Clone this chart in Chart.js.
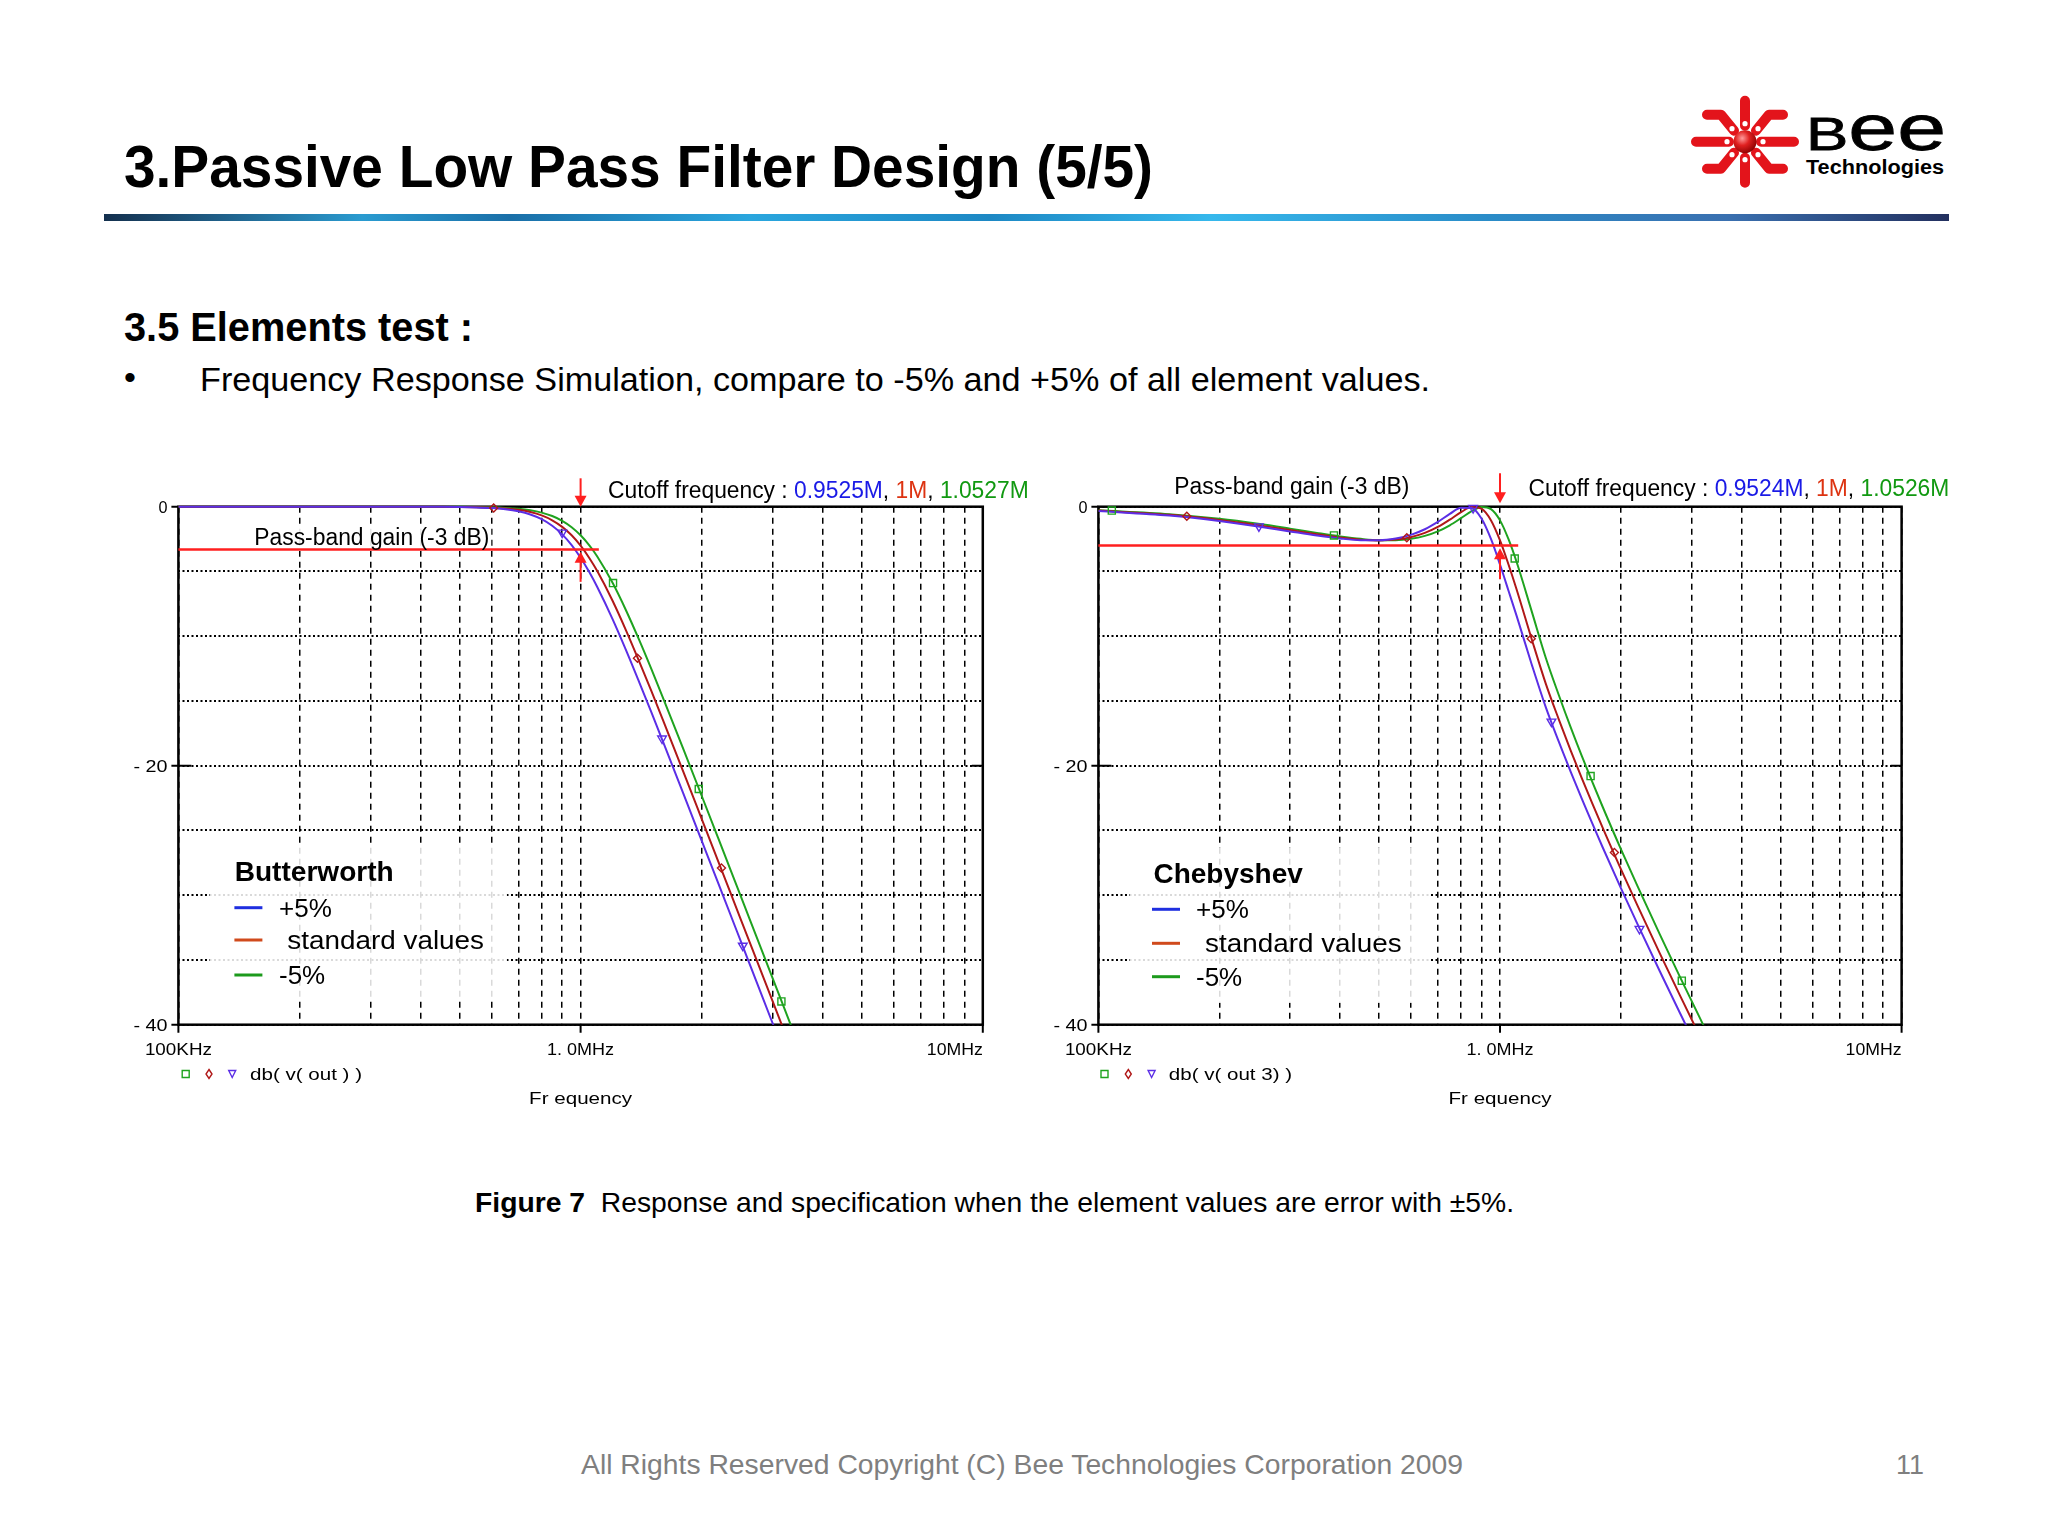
<!DOCTYPE html>
<html>
<head>
<meta charset="utf-8">
<script src="https://cdn.jsdelivr.net/npm/chart.js@4.4.1/dist/chart.umd.min.js"></script>
<style>
  html, body { margin: 0; padding: 0; background: #fff; }
  body { width: 2048px; height: 1536px; position: relative; overflow: hidden; font-family: "Liberation Sans", Arial, sans-serif; }
  #slide { position: absolute; left: 0; top: 0; }
  .bar {
    position: absolute; left: 104px; top: 214px; width: 1845px; height: 7px;
    background: linear-gradient(90deg, #14304e 0%, #1f5d86 6%, #2a9bd0 14%, #1a6fa8 22%, #2aa6de 35%,
      #1d88c4 48%, #36b8ec 60%, #2a8cc8 75%, #3a70b0 88%, #23305f 100%);
  }
  .plot { position: absolute; }
</style>
</head>
<body>
<svg id="slide" width="2048" height="1536" font-family="Liberation Sans, Arial, sans-serif">
  <text x="124" y="187" font-size="59" font-weight="bold" textLength="1029" lengthAdjust="spacingAndGlyphs">3.Passive Low Pass Filter Design (5/5)</text>
  <text x="124" y="341" font-size="40" font-weight="bold" textLength="349" lengthAdjust="spacingAndGlyphs">3.5 Elements test :</text>
  <text x="124" y="389" font-size="34">•</text>
  <text x="200" y="391" font-size="34" textLength="1230" lengthAdjust="spacingAndGlyphs">Frequency Response Simulation, compare to -5% and +5% of all element values.</text>
  <text x="475" y="1212" font-size="28" style="white-space:pre" textLength="1039" lengthAdjust="spacingAndGlyphs"><tspan font-weight="bold">Figure 7</tspan>  Response and specification when the element values are error with ±5%.</text>
  <text x="581" y="1474" font-size="28" fill="#7f7f7f" textLength="882" lengthAdjust="spacingAndGlyphs">All Rights Reserved Copyright (C) Bee Technologies Corporation 2009</text>
  <text x="1896" y="1474" font-size="28" fill="#7f7f7f" textLength="28" lengthAdjust="spacingAndGlyphs">11</text>

  <defs>
    <radialGradient id="ball" cx="0.38" cy="0.35" r="0.7">
      <stop offset="0" stop-color="#ff9a9a"/>
      <stop offset="0.45" stop-color="#e02020"/>
      <stop offset="1" stop-color="#8a0000"/>
    </radialGradient>
  </defs>
  <g transform="translate(1745,141.7)" stroke="#e3141b" stroke-width="10" stroke-linecap="round" stroke-linejoin="round" fill="none">
    <path d="M -16 0 L -49 0 M 16 0 L 49 0 M 0 -16 L 0 -41 M 0 16 L 0 41"/>
    <path d="M -11 -11 L -24 -27 L -38 -27 M 11 -11 L 24 -27 L 38 -27 M -11 11 L -24 27 L -38 27 M 11 11 L 24 27 L 38 27"/>
    <g fill="#fff" stroke="none">
      <circle cx="-18" cy="0" r="2.6"/><circle cx="18" cy="0" r="2.6"/>
      <circle cx="0" cy="-18" r="2.6"/><circle cx="0" cy="18" r="2.6"/>
      <circle cx="-13" cy="-13" r="2.6"/><circle cx="13" cy="-13" r="2.6"/>
      <circle cx="-13" cy="13" r="2.6"/><circle cx="13" cy="13" r="2.6"/>
    </g>
    <circle cx="0" cy="0" r="11.5" fill="url(#ball)" stroke="none"/>
  </g>
  <text x="1806" y="150" textLength="140" lengthAdjust="spacingAndGlyphs" stroke="#000" stroke-width="0.8"><tspan font-size="47">B</tspan><tspan font-size="65">ee</tspan></text>
  <text x="1806" y="174" font-size="20" font-weight="bold" textLength="138" lengthAdjust="spacingAndGlyphs">Technologies</text>
</svg>
<div class="bar"></div>
<div class="plot" style="left:100px;top:460px"><canvas id="bwChart" width="940" height="660"></canvas></div>
<div class="plot" style="left:1040px;top:460px"><canvas id="chChart" width="950" height="660"></canvas></div>

<script>
// frequency points (kHz) shared by all traces
const freqKHz = [100, 150, 200, 250, 300, 350, 400, 450, 500, 550, 600, 650, 700, 750, 800, 850, 900, 950,
  1000, 1050, 1100, 1200, 1300, 1400, 1500, 1600, 1800, 2000, 2200, 2500, 2800, 3200, 3600, 4000];

// Butterworth, db(v(out))
const bwPlus5 = [0, 0, 0, 0, 0, 0, -0.004, -0.011, -0.025, -0.053, -0.106, -0.200, -0.354, -0.597, -0.961, -1.469, -2.137, -2.965,
  -3.94, -5.03, -6.20, -8.66, -11.15, -13.58, -15.89, -18.09, -22.14, -25.79, -29.09, -33.53, -37.47, -42.10, -46.20, -49.85];
const bwStd = [0, 0, 0, 0, 0, 0, -0.003, -0.007, -0.017, -0.036, -0.072, -0.136, -0.243, -0.414, -0.674, -1.047, -1.555, -2.21,
  -3.01, -3.94, -4.97, -7.24, -9.62, -11.98, -14.25, -16.43, -20.46, -24.10, -27.40, -31.84, -35.77, -40.41, -44.50, -48.16];
const bwMinus5 = [0, 0, 0, 0, 0, 0, -0.002, -0.005, -0.011, -0.024, -0.048, -0.091, -0.163, -0.279, -0.458, -0.721, -1.091, -1.583,
  -2.209, -2.966, -3.84, -5.86, -8.07, -10.33, -12.55, -14.70, -18.70, -22.32, -25.62, -30.06, -33.99, -38.63, -42.72, -46.38];

// Chebyshev, db(v(out3))
const chPlus5 = [-0.330, -0.686, -1.100, -1.521, -1.907, -2.227, -2.459, -2.583, -2.586, -2.453, -2.173, -1.742, -1.179, -0.558, -0.079, -0.097, -0.933, -2.513,
  -4.467, -6.489, -8.432, -12.2, -15.48, -18.13, -20.47, -22.59, -26.28, -29.45, -32.23, -35.87, -39.04, -42.71, -45.91, -48.74];
const chStd = [-0.301, -0.631, -1.019, -1.423, -1.802, -2.129, -2.382, -2.544, -2.601, -2.540, -2.351, -2.026, -1.567, -1.002, -0.420, -0.031, -0.163, -1.056,
  -2.601, -4.467, -6.394, -10.25, -13.66, -16.40, -18.83, -21.00, -24.77, -27.99, -30.81, -34.49, -37.68, -41.37, -44.59, -47.43];
const chMinus5 = [-0.274, -0.576, -0.939, -1.323, -1.693, -2.022, -2.291, -2.484, -2.587, -2.589, -2.481, -2.253, -1.902, -1.434, -0.882, -0.343, -0.015, -0.189,
  -1.056, -2.513, -4.275, -8.1, -11.66, -14.52, -17.04, -19.28, -23.15, -26.44, -29.30, -33.03, -36.25, -39.96, -43.19, -46.05];

// trace markers (kHz, dB)
const bwBlueMarkF = [900, 1594, 2531];          const bwBlueMarkDb = [-2.0, -17.9, -33.9];
const bwRedMarkF = [608, 1385, 2240];           const bwRedMarkDb = [-0.1, -11.7, -27.9];
const bwGreenMarkF = [1204, 1967, 3157];        const bwGreenMarkDb = [-5.9, -21.8, -38.2];
const chBlueMarkF = [251, 857, 1343, 2225];     const chBlueMarkDb = [-1.52, -0.1, -16.6, -32.6];
const chRedMarkF = [166, 586, 1196, 1927];      const chRedMarkDb = [-0.73, -2.4, -10.2, -26.7];
const chGreenMarkF = [108, 386, 1088, 1681, 2836]; const chGreenMarkDb = [-0.3, -2.22, -4.0, -20.8, -36.6];

// axes
const xGridKHz = [100, 200, 300, 400, 500, 600, 700, 800, 900, 1000, 2000, 3000, 4000, 5000, 6000, 7000, 8000, 9000, 10000];
const xTickKHz = [100, 1000, 10000];
const xTickText = ['100KHz', '1. 0MHz', '10MHz'];
const xTickWidth = [67, 67, 56];
const yTickDb = [0, -20, -40];
const yTickText = ['0', '- 20', '- 40'];
const yTickWidth = [9, 34, 34];

// annotations
const legendNames = ['+5%', 'standard values', '-5%'];
const bwCutoff = ['0.9525M', '1M', '1.0527M'];
const chCutoff = ['0.9524M', '1M', '1.0526M'];
const cutoffKHz = 1000;
const bwPassDb = -3.3;
const chPassDb = -3.0;
const passEndKHz = 1110;

const FONT = '"Liberation Sans", Arial, sans-serif';
const TRACE = ['#5b2ee6', '#b01818', '#1fa31f'];      // +5%, standard, -5%
const LEGEND = ['#1f2fe0', '#d04a1c', '#1c9a1c'];
const CUT = ['#1a1ae6', '#dd3311', '#119911'];
const RED = '#ff1f1f';

function fitText(ctx, str, x, y, w, font, color) {
  ctx.save();
  ctx.font = font;
  ctx.fillStyle = color || '#000';
  ctx.textAlign = 'left';
  ctx.textBaseline = 'alphabetic';
  const m = ctx.measureText(str).width;
  ctx.translate(x, y);
  ctx.scale(w / m, 1);
  ctx.fillText(str, 0, 0);
  ctx.restore();
}

function runs(ctx, parts, x, y, w, font) {
  ctx.save();
  ctx.font = font;
  ctx.textAlign = 'left';
  ctx.textBaseline = 'alphabetic';
  const total = parts.reduce((s, p) => s + ctx.measureText(p[0]).width, 0);
  ctx.translate(x, y);
  ctx.scale(w / total, 1);
  let cx = 0;
  parts.forEach(([t, c]) => {
    ctx.fillStyle = c;
    ctx.fillText(t, cx, 0);
    cx += ctx.measureText(t).width;
  });
  ctx.restore();
}

function arrow(ctx, x, yFrom, yTip) {
  const dir = yTip > yFrom ? 1 : -1;
  ctx.save();
  ctx.strokeStyle = RED;
  ctx.fillStyle = RED;
  ctx.lineWidth = 2;
  ctx.beginPath();
  ctx.moveTo(x, yFrom);
  ctx.lineTo(x, yTip - dir * 8);
  ctx.stroke();
  ctx.beginPath();
  ctx.moveTo(x, yTip);
  ctx.lineTo(x - 6, yTip - dir * 11);
  ctx.lineTo(x + 6, yTip - dir * 11);
  ctx.closePath();
  ctx.fill();
  ctx.restore();
}

function symbol(ctx, kind, x, y, color) {
  ctx.save();
  ctx.strokeStyle = color;
  ctx.lineWidth = 1.4;
  ctx.beginPath();
  if (kind === 'square') ctx.rect(x - 3.5, y - 3.5, 7, 7);
  if (kind === 'diamond') { ctx.moveTo(x, y - 4.5); ctx.lineTo(x + 3, y); ctx.lineTo(x, y + 4.5); ctx.lineTo(x - 3, y); ctx.closePath(); }
  if (kind === 'tri') { ctx.moveTo(x - 3.5, y - 3.5); ctx.lineTo(x + 3.5, y - 3.5); ctx.lineTo(x, y + 3.5); ctx.closePath(); }
  ctx.stroke();
  ctx.restore();
}

function overlay(o) {
  return {
    id: o.id,
    beforeDatasetsDraw(chart) {
      const { ctx, chartArea: ca, scales: { x, y } } = chart;
      ctx.save();
      // legend backdrop
      ctx.fillStyle = 'rgba(255,255,255,0.85)';
      ctx.fillRect(ca.left + o.box[0], ca.top + o.box[1], o.box[2], o.box[3]);
      if (o.passBg) {
        ctx.fillStyle = 'rgba(255,255,255,0.9)';
        ctx.fillRect(ca.left + o.passDx - 2, ca.top + o.passBase - 19, o.passW + 4, 25);
      }
      // frame
      ctx.strokeStyle = '#000';
      ctx.lineWidth = 2.5;
      ctx.strokeRect(ca.left, ca.top, ca.right - ca.left, ca.bottom - ca.top);
      ctx.lineWidth = 2;
      ctx.beginPath();
      yTickDb.forEach(v => {
        const py = y.getPixelForValue(v);
        ctx.moveTo(ca.left - 7, py); ctx.lineTo(ca.left, py);
      });
      xTickKHz.forEach(v => {
        const px = x.getPixelForValue(v);
        ctx.moveTo(px, ca.bottom); ctx.lineTo(px, ca.bottom + 8);
      });
      const p20 = y.getPixelForValue(-20);
      ctx.moveTo(ca.left, p20); ctx.lineTo(ca.left + 13, p20);
      ctx.moveTo(ca.right - 11, p20); ctx.lineTo(ca.right, p20);
      ctx.stroke();
      ctx.restore();
    },
    afterDatasetsDraw(chart) {
      const { ctx, chartArea: ca, scales: { x, y } } = chart;
      const axisFont = '16px ' + FONT;
      // axis labels
      yTickDb.forEach((v, i) => {
        const py = y.getPixelForValue(v);
        fitText(ctx, yTickText[i], ca.left - 11 - yTickWidth[i], py + 6, yTickWidth[i], axisFont);
      });
      xTickKHz.forEach((v, i) => {
        const px = x.getPixelForValue(v);
        const left = i === xTickKHz.length - 1 ? px - xTickWidth[i] : px - xTickWidth[i] / 2;
        fitText(ctx, xTickText[i], left, ca.bottom + 30.5, xTickWidth[i], axisFont);
      });
      const pMid = x.getPixelForValue(cutoffKHz);
      fitText(ctx, 'Fr equency', pMid - 51.5, ca.bottom + 79.5, 103, '17px ' + FONT);
      // trace names row
      const ry = ca.bottom + 49.3;
      symbol(ctx, 'square', ca.left + o.symX[0], ry, TRACE[2]);
      symbol(ctx, 'diamond', ca.left + o.symX[1], ry, TRACE[1]);
      symbol(ctx, 'tri', ca.left + o.symX[2], ry, TRACE[0]);
      fitText(ctx, o.trace, ca.left + o.traceX, ry + 6, o.traceW, axisFont);

      // -3 dB line
      const gy = y.getPixelForValue(o.passDb);
      ctx.save();
      ctx.strokeStyle = RED;
      ctx.lineWidth = 2.5;
      ctx.beginPath();
      ctx.moveTo(ca.left, gy);
      ctx.lineTo(x.getPixelForValue(passEndKHz), gy);
      ctx.stroke();
      ctx.restore();
      arrow(ctx, pMid, ca.top + o.downArrow[0], ca.top + o.downArrow[1]);
      arrow(ctx, pMid, gy + o.upArrow[1], gy + o.upArrow[0]);

      // annotation texts
      const f22 = '23px ' + FONT;
      fitText(ctx, 'Pass-band gain (-3 dB)', ca.left + o.passDx, ca.top + o.passBase, o.passW, f22);
      runs(ctx, [['Cutoff frequency : ', '#000'], [o.cutoff[0], CUT[0]], [', ', '#000'], [o.cutoff[1], CUT[1]],
        [', ', '#000'], [o.cutoff[2], CUT[2]]], pMid + o.cutDx, ca.top + o.cutBase, 420.7, f22);

      // legend
      fitText(ctx, o.title, ca.left + o.titleX, ca.top + o.titleBase, o.titleW, 'bold 28px ' + FONT);
      ctx.save();
      ctx.lineWidth = 3;
      o.rows.forEach((ry2, i) => {
        ctx.strokeStyle = LEGEND[i];
        ctx.beginPath();
        ctx.moveTo(ca.left + o.lineX[0], ca.top + ry2);
        ctx.lineTo(ca.left + o.lineX[1], ca.top + ry2);
        ctx.stroke();
      });
      ctx.restore();
      const legW = [52.8, 196.7, 46.2];
      o.rows.forEach((ry2, i) => {
        fitText(ctx, legendNames[i], ca.left + o.textX[i], ca.top + ry2 + 9, legW[i], '26px ' + FONT);
      });
    }
  };
}

function curve(ys, color) {
  return {
    data: freqKHz.map((f, i) => ({ x: f, y: ys[i] })),
    borderColor: color, borderWidth: 2, pointRadius: 0, fill: false,
    cubicInterpolationMode: 'monotone',
    clip: { left: 0, top: 3, right: 0, bottom: 0 }
  };
}

function marks(fs, ds, color, style, rot, r) {
  return {
    data: fs.map((f, i) => ({ x: f, y: ds[i] })),
    showLine: false,
    pointStyle: style, pointRotation: rot, pointRadius: r,
    pointBorderColor: color, pointBackgroundColor: 'rgba(0,0,0,0)', pointBorderWidth: 1.4,
    borderColor: color, clip: 8
  };
}

function makeChart(id, sets, padRight, yWidth, o) {
  return new Chart(document.getElementById(id), {
    type: 'line',
    data: { datasets: sets },
    options: {
      responsive: false,
      animation: false,
      devicePixelRatio: 1,
      layout: { padding: { top: 46.7, right: padRight, bottom: 0, left: 0 } },
      plugins: { legend: { display: false }, tooltip: { enabled: false } },
      scales: {
        x: {
          type: 'logarithmic', min: 100, max: 10000,
          afterBuildTicks: s => { s.ticks = xGridKHz.map(v => ({ value: v })); },
          afterFit: s => { s.height = 95.3; },
          ticks: { display: false, autoSkip: false },
          grid: { color: '#000', lineWidth: 1.5, drawTicks: false },
          border: { display: false, dash: [6, 5] }
        },
        y: {
          type: 'linear', min: -40, max: 0,
          afterFit: s => { s.width = yWidth; },
          ticks: { display: false, stepSize: 5 },
          grid: { color: '#000', lineWidth: 2, drawTicks: false },
          border: { display: false, dash: [2, 2.5] }
        }
      }
    },
    plugins: [overlay(o)]
  });
}

makeChart('bwChart', [
  marks(bwBlueMarkF, bwBlueMarkDb, TRACE[0], 'triangle', 180, 5),
  marks(bwRedMarkF, bwRedMarkDb, TRACE[1], 'rectRot', 0, 4),
  marks(bwGreenMarkF, bwGreenMarkDb, TRACE[2], 'rect', 0, 5),
  curve(bwPlus5, TRACE[0]),
  curve(bwStd, TRACE[1]),
  curve(bwMinus5, TRACE[2])
], 57.2, 78.4, {
  id: 'bwOverlay', title: 'Butterworth', titleW: 159, titleX: 56.3, titleBase: 374,
  trace: 'db( v( out ) )', traceW: 112, traceX: 71.6, symX: [7.3, 30.6, 53.8],
  cutoff: bwCutoff, cutDx: 27.4, cutBase: -9.2,
  passDb: bwPassDb, passDx: 75.9, passBase: 38.3, passW: 235, passBg: true,
  box: [31.6, 338.3, 297, 155],
  lineX: [56, 84], rows: [401, 433.3, 468.3], textX: [100.6, 108.9, 100.6],
  downArrow: [-28.4, 0], upArrow: [2.4, 32.4]
});

makeChart('chChart', [
  marks(chBlueMarkF, chBlueMarkDb, TRACE[0], 'triangle', 180, 5),
  marks(chRedMarkF, chRedMarkDb, TRACE[1], 'rectRot', 0, 4),
  marks(chGreenMarkF, chGreenMarkDb, TRACE[2], 'rect', 0, 5),
  curve(chPlus5, TRACE[0]),
  curve(chStd, TRACE[1]),
  curve(chMinus5, TRACE[2])
], 88.4, 58.4, {
  id: 'chOverlay', title: 'Chebyshev', titleW: 149.3, titleX: 55.1, titleBase: 376.6,
  trace: 'db( v( out 3) )', traceW: 123.2, traceX: 70.4, symX: [6.1, 29.9, 53.2],
  cutoff: chCutoff, cutDx: 28.6, cutBase: -10.7,
  passDb: chPassDb, passDx: 75.9, passBase: -12.7, passW: 235, passBg: false,
  box: [31.6, 341.3, 299, 155],
  lineX: [53.6, 81.6], rows: [402.6, 436.6, 470], textX: [97.6, 106.6, 97.6],
  downArrow: [-33.4, -3.4], upArrow: [2.8, 33.8]
});
</script>
</body>
</html>
